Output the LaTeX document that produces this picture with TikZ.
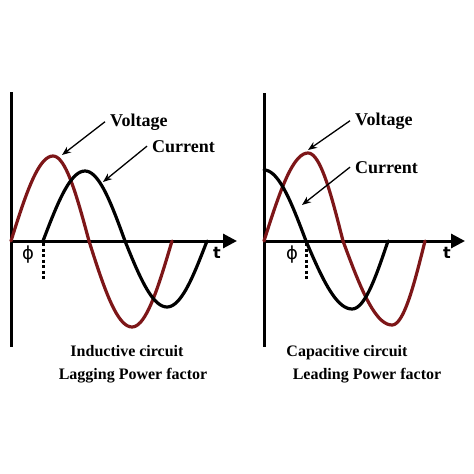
\documentclass[tikz,border=0pt]{standalone}
\usepackage{fontspec}
\setmainfont{Liberation Serif}
\newfontfamily\symfont{DejaVu Sans}
\newfontfamily\tfont{DejaVu Sans}[BoldFont={DejaVu Sans Bold}]
\usetikzlibrary{arrows.meta}
\definecolor{volt}{RGB}{125,22,24}
\begin{document}
\begin{tikzpicture}[x=1pt,y=-1pt,
  axis/.style={line width=3pt,-{Triangle[length=14pt,width=14pt]}},
  vaxis/.style={line width=3pt},
  wave/.style={line width=3.2pt,line join=round,line cap=round},
  vwave/.style={wave,draw=volt},
  iwave/.style={wave,draw=black},
  phase/.style={line width=3pt,dash pattern=on 3pt off 2.5pt},
  lbl/.style={font=\bfseries\fontsize{18}{20}\selectfont,inner xsep=5pt,inner ysep=1pt,anchor=base west},
  capt/.style={font=\bfseries\fontsize{16}{18}\selectfont,inner sep=0pt,anchor=base},
  sym/.style={font=\symfont\fontsize{18}{20}\selectfont,inner sep=0pt},
  tl/.style={font=\tfont\bfseries\fontsize{16}{18}\selectfont,inner sep=0pt},
  pointer/.style={line width=1.3pt,-{Stealth[length=9pt,width=7pt]}}
]
\fill[white] (0,0) rectangle (474,474);
\useasboundingbox (0,0) rectangle (474,474);

% ---------- left panel ----------
\coordinate (Ltop) at (11,92);
\coordinate (Lbot) at (11,347);
\coordinate (Lo) at (9.5,241);
\coordinate (Lend) at (237,241);
\draw[vaxis] (Ltop) -- (Lbot);
\draw[axis] (Lo) -- (Lend);

\draw[vwave] plot[domain=0:90,samples=20] ({11+42*\x/90},{241-85*sin(\x)})
  -- plot[domain=90:180,samples=20] ({53+36*(\x-90)/90},{241-85*sin(\x)})
  -- plot[domain=180:270,samples=20] ({89+43*(\x-180)/90},{241-86*sin(\x)})
  -- plot[domain=270:360,samples=20] ({132+40*(\x-270)/90},{241-86*sin(\x)});
\draw[iwave] plot[domain=0:90,samples=20] ({43+42*\x/90},{241-70*sin(\x)})
  -- plot[domain=90:180,samples=20] ({85+40*(\x-90)/90},{241-70*sin(\x)})
  -- plot[domain=180:270,samples=20] ({125+42*(\x-180)/90},{241-66*sin(\x)})
  -- plot[domain=270:360,samples=20] ({167+40*(\x-270)/90},{241-66*sin(\x)});

\coordinate (Lph1) at (43,243);
\coordinate (Lph2) at (43,279);
\draw[phase] (Lph1) -- (Lph2);
\node[sym] (Lphi) at (28,255) {ϕ};
\node[tl] (Lt) at (217,253) {t};

\node[lbl] (LV) at (105,126) {Voltage};
\coordinate (LVtip) at (62,155);
\draw[pointer] (LV.west) -- (LVtip);
\node[lbl] (LC) at (147,152) {Current};
\coordinate (LCtip) at (103,182);
\draw[pointer] (LC.west) -- (LCtip);

\node[capt] (L1) at (127,356) {Inductive circuit};
\node[capt] (L2) at (133,379) {Lagging Power factor};

% ---------- right panel ----------
\coordinate (Rtop) at (264,93);
\coordinate (Rbot) at (264,347);
\coordinate (Ro) at (262.5,241);
\coordinate (Rend) at (465,241);
\draw[vaxis] (Rtop) -- (Rbot);
\draw[axis] (Ro) -- (Rend);

\draw[vwave] plot[domain=0:90,samples=20] ({264+44*\x/90},{241-88*sin(\x)})
  -- plot[domain=90:180,samples=20] ({308+35*(\x-90)/90},{241-88*sin(\x)})
  -- plot[domain=180:270,samples=20] ({343+49*(\x-180)/90},{241-84*sin(\x)})
  -- plot[domain=270:360,samples=20] ({392+33*(\x-270)/90},{241-84*sin(\x)});
\draw[iwave] plot[domain=90:180,samples=20] ({264+42*(\x-90)/90},{241-71*sin(\x)})
  -- plot[domain=180:270,samples=20] ({306+46*(\x-180)/90},{241-68*sin(\x)})
  -- plot[domain=270:360,samples=20] ({352+36*(\x-270)/90},{241-68*sin(\x)});

\coordinate (Rph1) at (306,243);
\coordinate (Rph2) at (306,279);
\draw[phase] (Rph1) -- (Rph2);
\node[sym] (Rphi) at (292,255) {ϕ};
\node[tl] (Rt) at (447,253) {t};

\node[lbl] (RV) at (350,125) {Voltage};
\coordinate (RVtip) at (308,150);
\draw[pointer] (RV.west) -- (RVtip);
\node[lbl] (RC) at (350,173) {Current};
\coordinate (RCtip) at (302,205);
\draw[pointer] (RC.west) -- (RCtip);

\node[capt] (R1) at (347,356) {Capacitive circuit};
\node[capt] (R2) at (367,379) {Leading Power factor};
\end{tikzpicture}
\end{document}
